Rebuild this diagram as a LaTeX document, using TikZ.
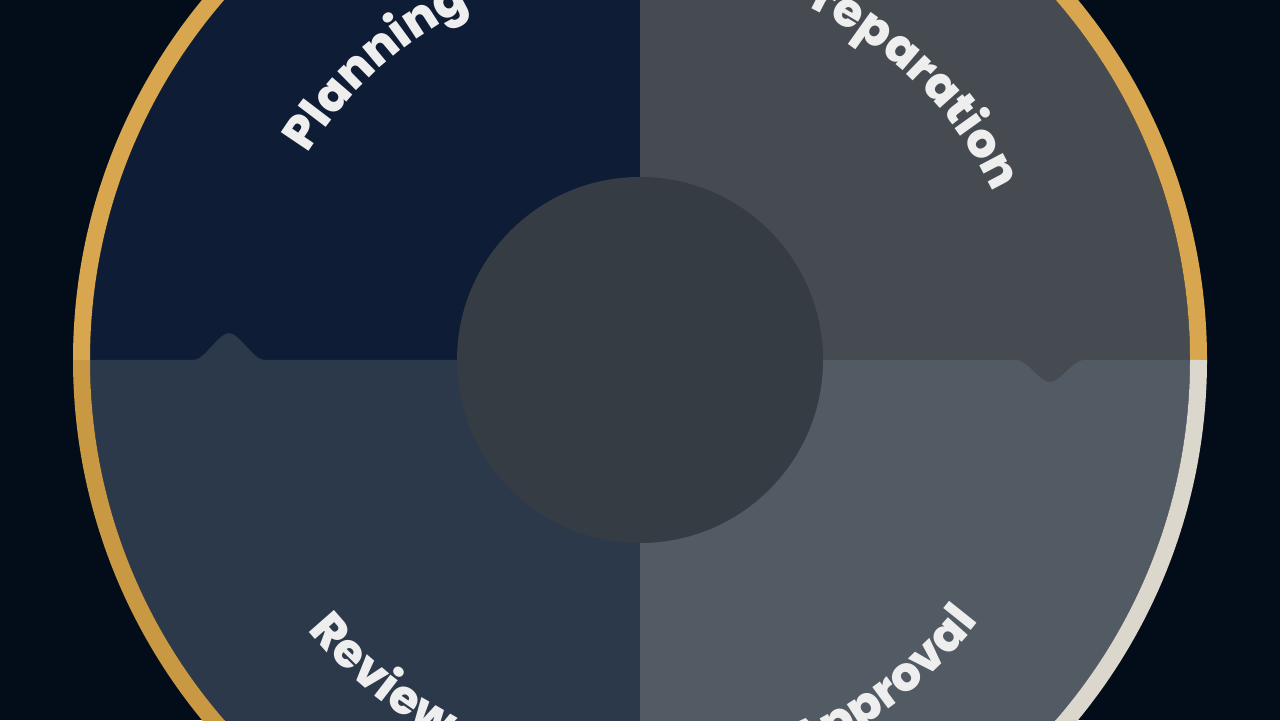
\documentclass[tikz,border=0pt]{standalone}
\usepackage{fontspec}
\setmainfont{Poppins}[BoldFont={Poppins ExtraBold}]
\usepackage{xcolor}
\usetikzlibrary{decorations.text}

\definecolor{bgnavy}{HTML}{030D1A}
\definecolor{qtl}{HTML}{0E1D35}
\definecolor{qtr}{HTML}{464B52}
\definecolor{qbl}{HTML}{2C394B}
\definecolor{qbr}{HTML}{525A64}
\definecolor{qmid}{HTML}{363C44}
\definecolor{ringgold}{HTML}{D8A64F}
\definecolor{ringdark}{HTML}{C99843}
\definecolor{ringlight}{HTML}{DCD7CC}
\definecolor{labelwhite}{HTML}{EEEEEE}

\newcommand{\labelfont}{\fontsize{27}{32}\selectfont\bfseries\color{labelwhite}}
\tikzset{arctext/.style={decorate, decoration={text along path, text align=center, text={|\labelfont|#1}}}}

\begin{document}
\begin{tikzpicture}[x=0.02cm, y=0.02cm]

    \newcommand{\rdisc}{550} \newcommand{\rring}{558.5} \newcommand{\rhub}{183}
    \newcommand{\rtop}{391} \newcommand{\rbot}{428}

    \useasboundingbox (0,0) rectangle (1280,720);
    \clip (0,0) rectangle (1280,720);
    \fill[bgnavy] (0,0) rectangle (1280,720);
    \coordinate (c) at (640,360);

    %% Quadrants
    \foreach \a/\col in {90/qtl, 0/qtr, 180/qbl, 270/qbr}
    \fill[\col, shift={(c)}] (0,0) -- (\a:\rdisc) arc[start angle=\a, end angle=\a+90, radius=\rdisc] -- cycle;

    % bumps on the divider
    \fill[qbl] (194,355) -- (194,360) .. controls (204,360) and (219,387) .. (229,387)
        .. controls (239,387) and (254,360) .. (264,360) -- (264,355) -- cycle;
    \fill[qtr] (1017,365) -- (1017,360) .. controls (1027,360) and (1040,338) .. (1050,338)
        .. controls (1060,338) and (1073,360) .. (1083,360) -- (1083,365) -- cycle;

    % hub
    \fill[qmid] (c) circle (\rhub);

    %% Ring
    \foreach \a/\col in {90/ringgold, 0/ringgold, 180/ringdark, 270/ringlight}
    \draw[\col, line width=0.34cm, shift={(c)}] (\a:\rring) arc[start angle=\a, end angle=\a+90, radius=\rring];

    %% Labels
    \path[shift={(c)}, arctext=Planning] (172:\rtop) arc[start angle=172, end angle=92, radius=\rtop];
    \path[shift={(c)}, arctext=Preparation] (87:\rtop) arc[start angle=87, end angle=7, radius=\rtop];
    \path[shift={(c)}, arctext=Review] (191:\rbot) arc[start angle=191, end angle=271, radius=\rbot];
    \path[shift={(c)}, arctext=Approval] (267:\rbot) arc[start angle=267, end angle=347, radius=\rbot];

\end{tikzpicture}
\end{document}
